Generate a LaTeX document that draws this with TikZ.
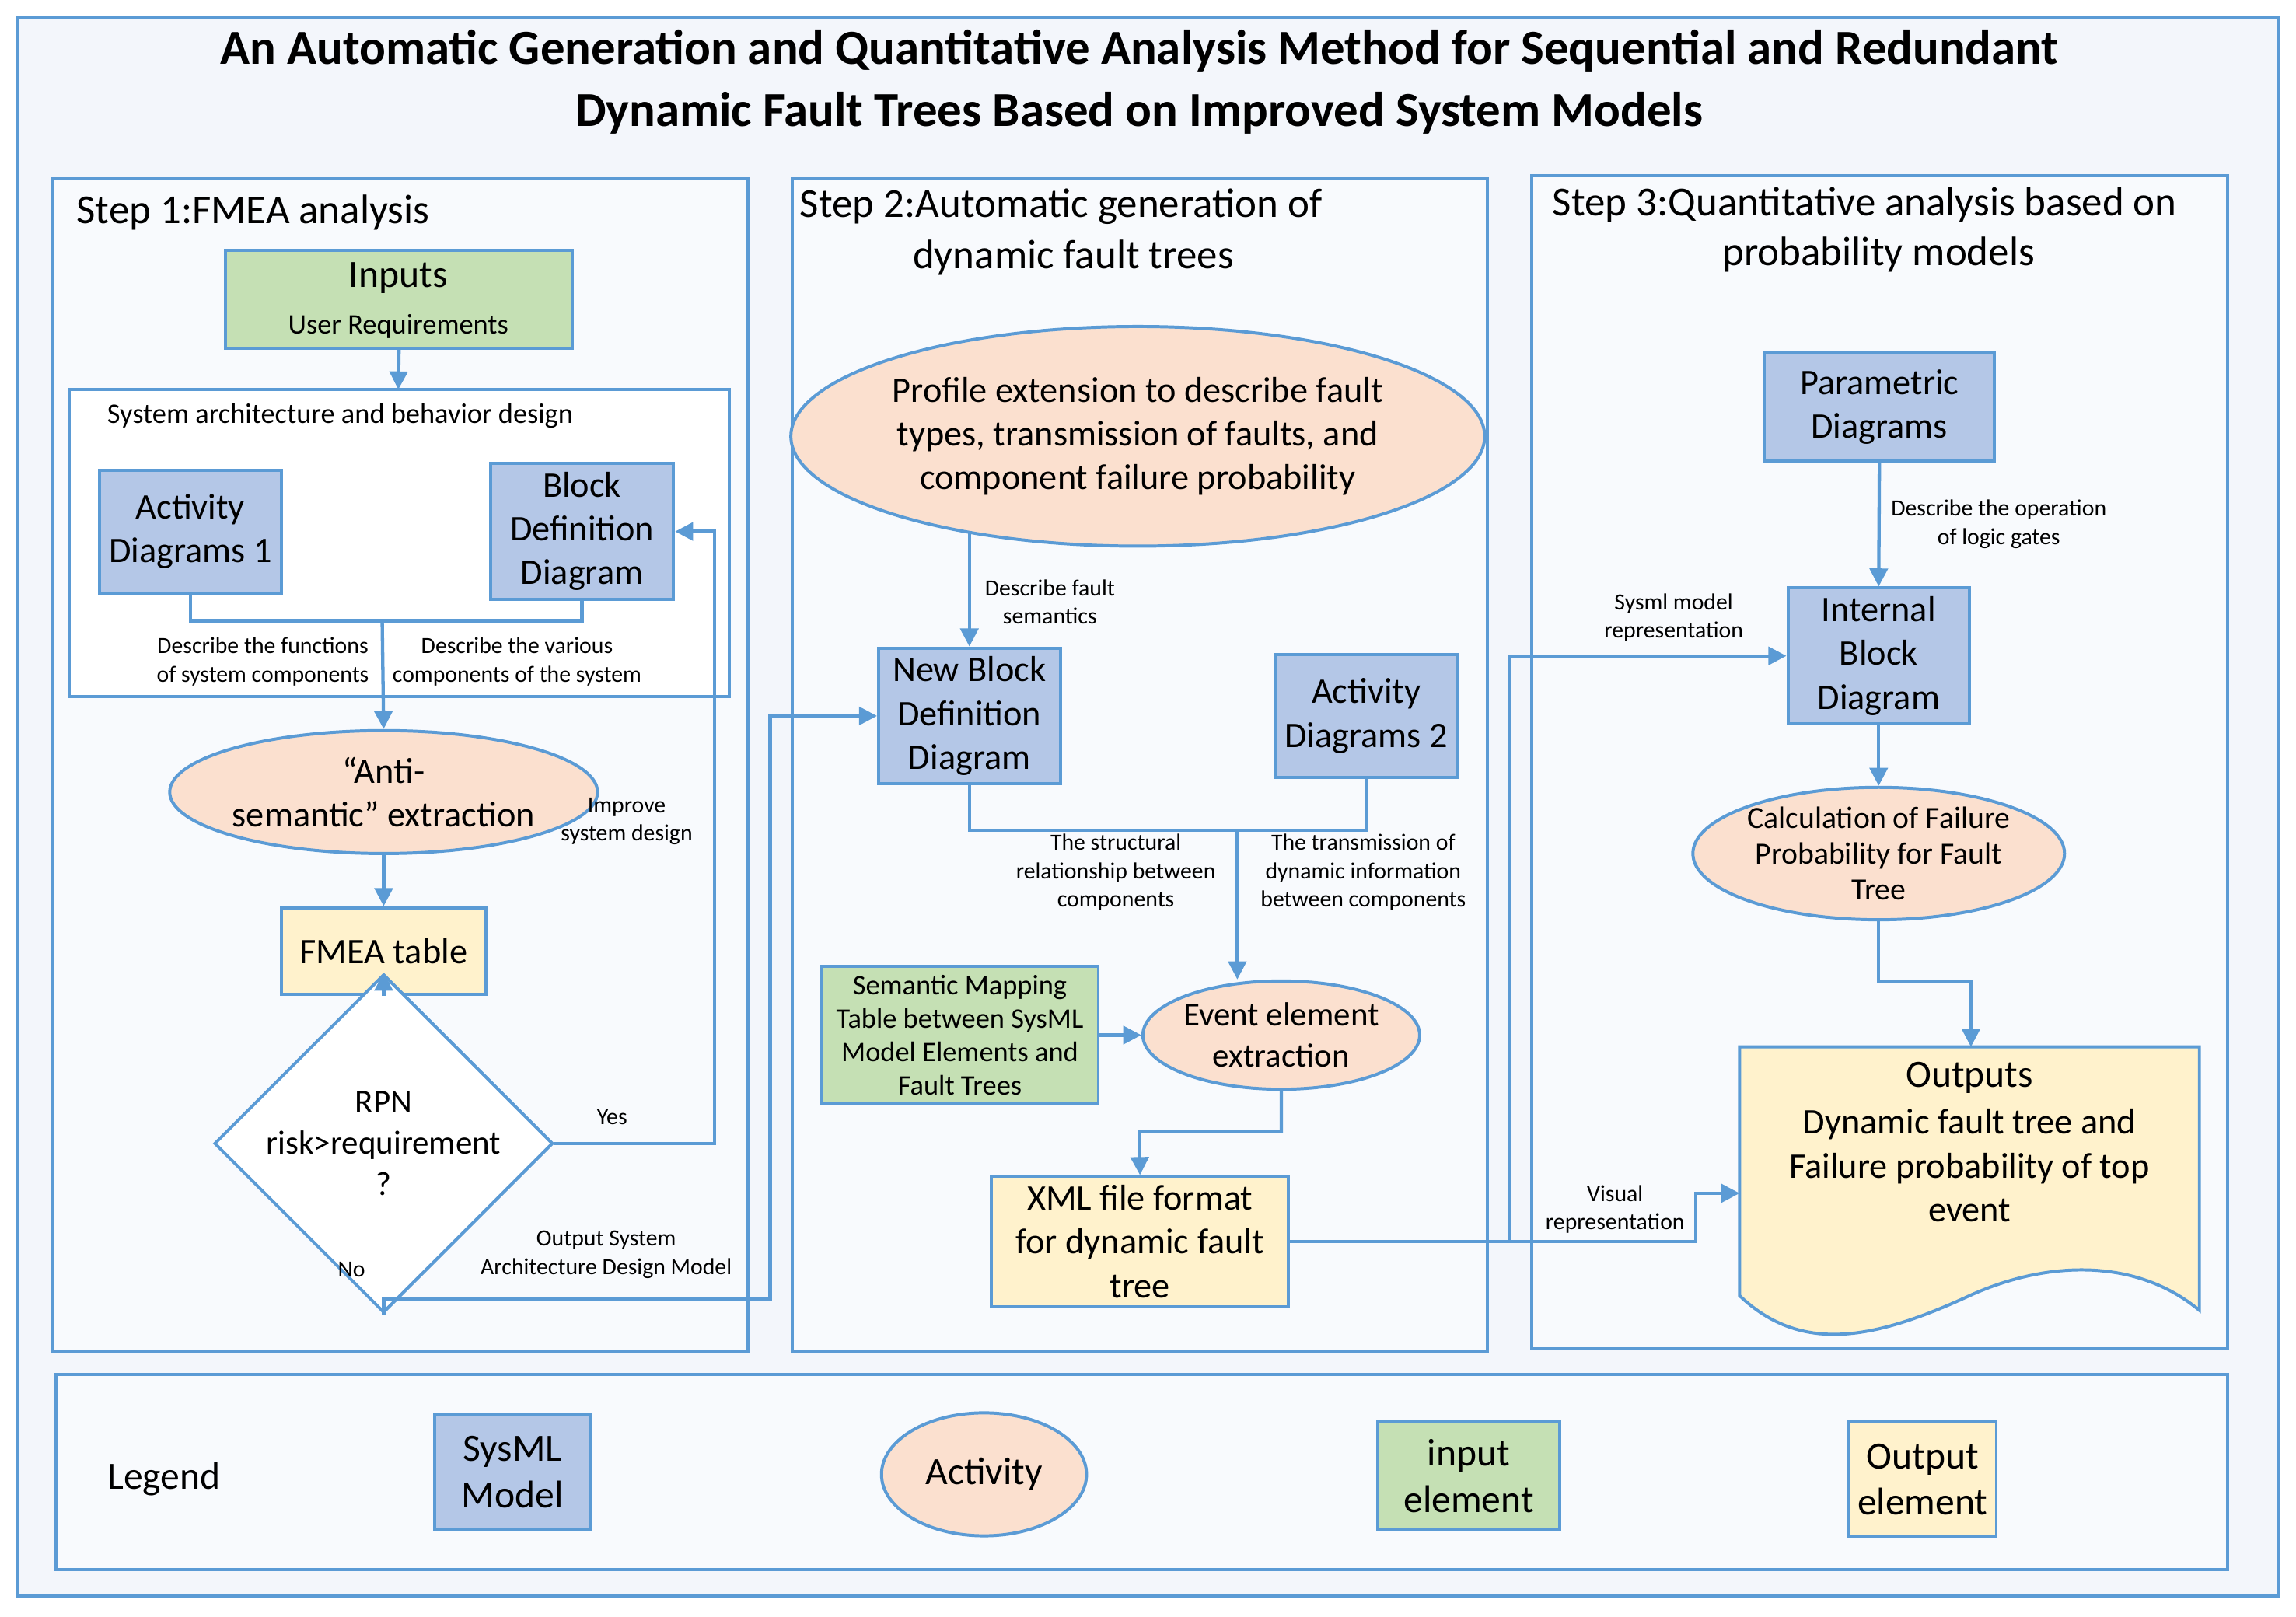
\documentclass[tikz,border=0pt]{standalone}
\usepackage{fontspec}
\setmainfont{Carlito}
\usetikzlibrary{shapes.geometric,arrows.meta}
\definecolor{bl}{HTML}{5B9BD5}
\definecolor{sysf}{HTML}{B4C7E7}
\definecolor{grf}{HTML}{C5E0B4}
\definecolor{orf}{HTML}{FBE0CF}
\definecolor{yef}{HTML}{FFF2CC}
\definecolor{bgf}{HTML}{F3F6FB}
\newcommand{\fs}[1]{\fontsize{#1}{\numexpr #1*6/5\relax}\selectfont}
\newcommand{\pxu}{0.02cm}
\tikzset{
 x=0.02cm,y=-0.02cm,
 wh/.style 2 args={minimum width=#1*\pxu,minimum height=#2*\pxu},
 line/.style={draw=bl,line width=1.3pt},
 arr/.style={line,-{Triangle[length=7pt,width=7pt]}},
 panel/.style={draw=bl,line width=1.2pt,fill=bgf},
 sys/.style={draw=bl,line width=1.2pt,fill=sysf,align=center,font=\fs{14}},
 inp/.style={draw=bl,line width=1.2pt,fill=grf,align=center},
 act/.style={ellipse,draw=bl,line width=1.2pt,fill=orf,align=center,inner sep=0pt},
 outb/.style={draw=bl,line width=1.2pt,fill=yef,align=center,font=\fs{14}},
 lab/.style={align=center,font=\fs{9},inner sep=1pt},
 steplab/.style={font=\fs{16},align=center,inner sep=0pt}
}
\begin{document}
\begin{tikzpicture}
\useasboundingbox (0,0) rectangle (1568,1104);
\fill[white] (0,0) rectangle (1568,1104);
\draw[panel] (12,12) rectangle (1556,1090);
\node[font=\bfseries\fs{19},align=center] (title) at (778,56) {An Automatic Generation and Quantitative Analysis Method for Sequential and Redundant\\[1pt]Dynamic Fault Trees Based on Improved System Models};
% panels
\draw[panel,fill=bgf!60] (36,122) rectangle (511,923);
\draw[panel,fill=bgf!60] (541,122) rectangle (1016,923);
\draw[panel,fill=bgf!60] (1046,120) rectangle (1521,921);
\draw[panel,fill=bgf!60] (38,939) rectangle (1521,1072);
\node[steplab,anchor=west] (s1) at (52,145) {Step 1:FMEA analysis};
\node[steplab,anchor=west] (s2a) at (546,141) {Step 2:Automatic generation of};
\node[steplab] (s2b) at (733,176) {dynamic fault trees};
\node[steplab,anchor=west] (s3a) at (1060,140) {Step 3:Quantitative analysis based on};
\node[steplab] (s3b) at (1283,174) {probability models};
% Step 1
\node[inp,wh={237}{67}] (in) at (272.5,204.5) {};
\node[font=\fs{15}] (inT) at (272,190) {Inputs};
\node[font=\fs{11}] (inU) at (272,223) {User Requirements};
\draw[draw=bl,line width=1.2pt,fill=white] (47,266) rectangle (498,476);
\coordinate (sysT) at (272,266);
\draw[arr] (in.south) -- (sysT);
\node[font=\fs{11},anchor=west] (sysl) at (67,284) {System architecture and behavior design};
\node[sys,wh={124}{84}] (ad1) at (130,363) {Activity\\Diagrams 1};
\node[sys,wh={125}{84}] (bdd) at (397.5,363) {Block\\Definition\\Diagram};
\coordinate (j1) at (261,424);
\draw[line] (ad1.south) |- (j1) -| (bdd.south);
\node[act,wh={228}{84},font=\fs{14}] (anti) at (262,541) {“Anti-\\semantic” extraction};
\draw[arr] (j1) -- (anti.north);
\node[lab,anchor=east] at (254,452) {Describe the functions\\of system components};
\node[lab,anchor=west] at (266,452) {Describe the various\\components of the system};
\node[lab] at (428,561) {Improve\\system design};
\node[outb,wh={140}{59}] (fmea) at (262,649.5) {FMEA table};
\draw[arr] (anti.south) -- (fmea.north);
\node[diamond,draw=bl,line width=1.2pt,fill=white,wh={210}{132},inner sep=0pt,align=center,font=\fs{13}] (rpn) at (262,781) {RPN\\risk>requirement\\?};
\draw[arr] (fmea.south) -- (rpn.north);
\coordinate (yes1) at (488,781);
\draw[arr] (rpn.east) -- (yes1) |- (bdd.east);
\node[lab] at (418,763) {Yes};
% Step 2
\node[act,wh={430}{150},font=\fs{14}] (prof) at (777,298) {Profile extension to describe fault\\types, transmission of faults, and\\component failure probability};
\node[sys,wh={124}{84}] (nbdd) at (662,489) {New Block\\Definition\\Diagram};
\node[sys,wh={124}{84}] (ad2) at (933,489) {Activity\\Diagrams 2};
\coordinate (pb) at (662,364);
\draw[arr] (pb) -- (nbdd.north);
\node[lab] at (717,411) {Describe fault\\semantics};
\coordinate (no1) at (262,887);
\coordinate (no2) at (526,887);
\draw[arr] (rpn.south) -- (no1) -- (no2) |- (nbdd.west);
\node[lab] at (240,867) {No};
\node[lab] at (414,857) {Output System\\Architecture Design Model};
\coordinate (j2) at (845,567);
\draw[line] (nbdd.south) |- (j2) -| (ad2.south);
\node[act,wh={158}{74},font=\fs{13}] (ev) at (875,707) {Event element\\extraction};
\draw[arr] (j2) -- (j2|-ev.north);
\node[lab] at (762,596) {The structural\\relationship between\\components};
\node[lab] at (931,596) {The transmission of\\dynamic information\\between components};
\node[inp,wh={189}{88},font=\fs{11}] (sem) at (655.5,707) {Semantic Mapping\\Table between SysML\\Model Elements and\\Fault Trees};
\draw[arr] (sem.east) -- (ev.west);
\node[outb,wh={203}{88}] (xml) at (778.5,848) {XML file format\\for dynamic fault\\tree};
\coordinate (e1) at (875,773);
\coordinate (e2) at (778,773);
\draw[arr] (ev.south) -- (e1) -- (e2) -- (xml.north);
% Step 3
\node[sys,wh={157}{74}] (par) at (1283.5,278) {Parametric\\Diagrams};
\node[sys,wh={124}{84}] (ibd) at (1283,448) {Internal\\Block\\Diagram};
\draw[arr] (par.south) -- (ibd.north);
\node[lab] at (1365,358) {Describe the operation\\of logic gates};
\node[act,wh={250}{84},font=\fs{12}] (calc) at (1283,583) {Calculation of Failure\\Probability for Fault\\Tree};
\draw[arr] (ibd.south) -- (calc.north);
\draw[draw=bl,line width=1.2pt,fill=yef] (1188,715) -- (1502,715) -- (1502,895)
  .. controls (1460,860) and (1400,860) .. (1345,885)
  .. controls (1280,915) and (1230,925) .. (1188,885) -- cycle;
\node[font=\fs{15}] (outT) at (1345,736) {Outputs};
\node[font=\fs{14},align=center] (outX) at (1345,796) {Dynamic fault tree and\\Failure probability of top\\event};
\coordinate (outTop) at (1346,715);
\coordinate (outL) at (1188,815);
\coordinate (c1) at (1283,670);
\coordinate (c2) at (1346,670);
\draw[arr] (calc.south) -- (c1) -- (c2) -- (outTop);
\coordinate (x1) at (1158,848);
\coordinate (x2) at (1158,815);
\draw[arr] (xml.east) -- (x1) -- (x2) -- (outL);
\coordinate (b1) at (1031,848);
\coordinate (b2) at (1031,448);
\draw[arr] (b1) -- (b2) -- (ibd.west);
\node[lab] at (1143,422) {Sysml model\\representation};
\node[lab] at (1103,826) {Visual\\representation};
% Legend
\node[font=\fs{15}] (leg) at (112,1010) {Legend};
\node[sys,wh={106}{79},font=\fs{15}] (l1) at (350,1005.5) {SysML\\Model};
\node[act,wh={140}{84},font=\fs{15}] (l2) at (672,1007) {Activity};
\node[inp,wh={124}{74},font=\fs{15}] (l3) at (1003,1008) {input\\element};
\node[outb,wh={96}{79},font=\fs{15}] (l4) at (1313,1010.5) {Output\\element};
\end{tikzpicture}
\end{document}
